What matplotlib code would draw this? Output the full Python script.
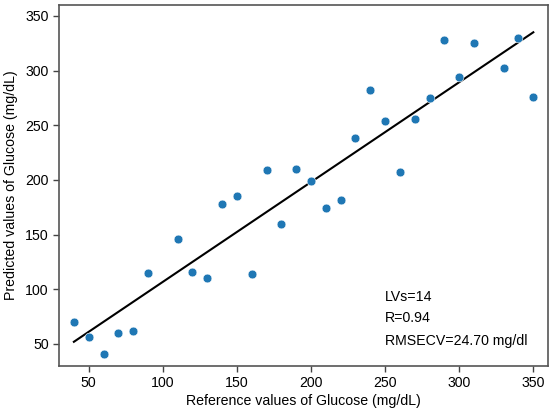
import matplotlib.pyplot as plt
import numpy as np

# --- data ---
ref_vals = [40, 50, 60, 70, 80, 90, 110, 120, 130, 140, 150, 160, 170, 180, 190,
            200, 210, 220, 230, 240, 250, 260, 270, 280, 290, 300, 310, 330, 340, 350]
pred_vals = [70, 56, 41, 60, 62, 115, 146, 116, 110, 178, 185, 114, 209, 160, 210,
             199, 174, 182, 238, 282, 254, 207, 256, 275, 328, 294, 325, 302, 330, 276]

# regression line end points
fit_x = [40, 350]
fit_y = [52, 335]

stats_lines = ['LVs=14', 'R=0.94', 'RMSECV=24.70 mg/dl']
x_ticks = [50, 100, 150, 200, 250, 300, 350]
y_ticks = [50, 100, 150, 200, 250, 300, 350]

plt.rcParams['font.family'] = ['Liberation Sans', 'DejaVu Sans']
fs = 10.2

fig = plt.figure(figsize=(5.52, 4.12), dpi=100)
ax = fig.add_axes([0.107, 0.112, 0.886, 0.876])

ax.scatter(ref_vals, pred_vals, s=40, color='#1f77b4', edgecolors='white', linewidths=0.4, zorder=3)
ax.plot(fit_x, fit_y, color='black', linewidth=1.5, zorder=2)

ax.set_xlim(30, 360)
ax.set_ylim(30, 360)
ax.set_xticks(x_ticks)
ax.set_yticks(y_ticks)
ax.tick_params(labelsize=fs, length=4, width=1, color='#444444')

for sp in ax.spines.values():
    sp.set_color('#555555')
    sp.set_linewidth(1.2)

ax.set_xlabel('Reference values of Glucose (mg/dL)', fontsize=fs, labelpad=3)
ax.set_ylabel('Predicted values of Glucose (mg/dL)', fontsize=fs, labelpad=5)

for txt, yv in zip(stats_lines, [93, 74, 53]):
    ax.text(250, yv, txt, fontsize=fs, ha='left', va='center')

fig.savefig('out.png', dpi=100)
